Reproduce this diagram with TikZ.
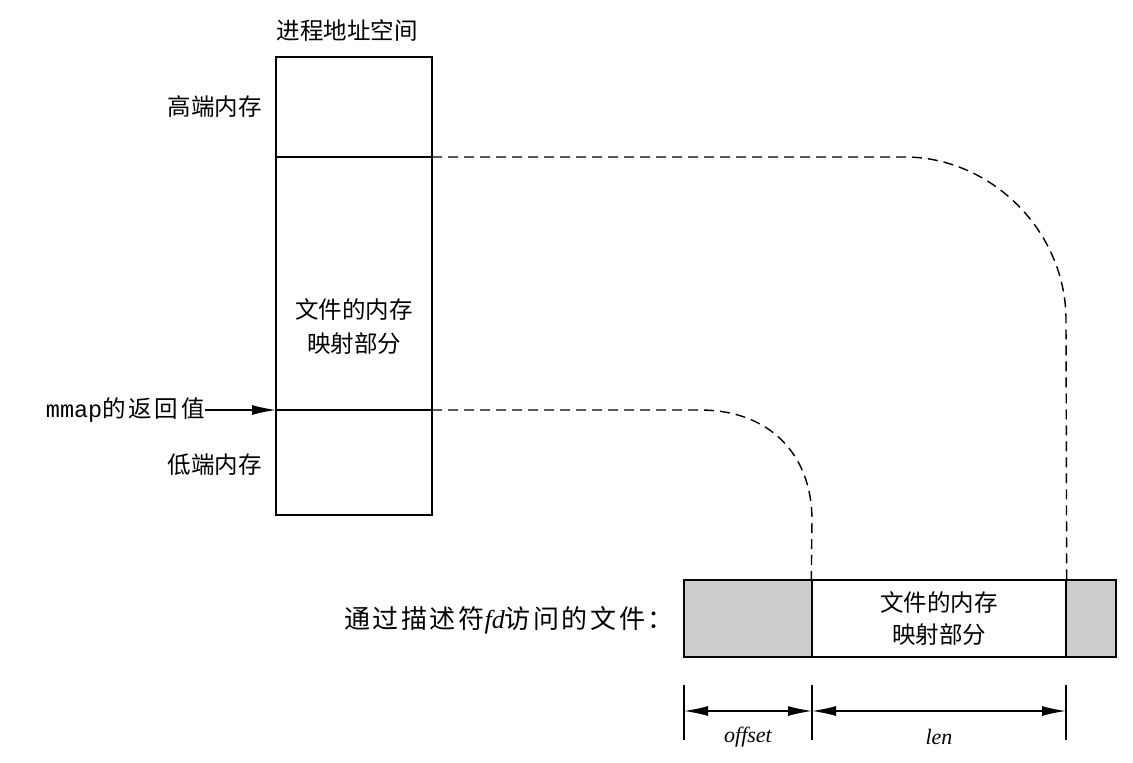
\documentclass[tikz,border=0pt]{standalone}
\usepackage{fontspec}
\setmainfont{Liberation Serif}
\setmonofont{Liberation Mono}
\newfontfamily\cjk{Noto Sans CJK SC}
\usetikzlibrary{arrows.meta}
\begin{document}
\begin{tikzpicture}[x=1pt,y=-1pt,
  lbl/.style={font=\cjk\fontsize{23.5}{28}\selectfont,inner sep=0pt},
  dsh/.style={dashed,dash pattern=on 10pt off 6pt,line width=1.4pt},
  tip/.style={-{Latex[length=24pt,width=10pt]}},
  thin/.style={line width=1.4pt}]
\useasboundingbox (0,0) rectangle (1133,763);
\node[draw,thin,minimum width=156pt,minimum height=458pt,inner sep=0pt] (box) at (354,286) {};
\coordinate (h1) at (276,157); \coordinate (h2) at (432,157);
\coordinate (l1) at (276,410); \coordinate (l2) at (432,410);
\draw[thin] (h1) -- (h2); \draw[thin] (l1) -- (l2);
\node[lbl] (t0) at (347,30) {进程地址空间};
\node[lbl,anchor=east] (hi) at (262,107) {高端内存};
\node[lbl,anchor=east] (lo) at (262,465) {低端内存};
\node[lbl,align=center] (mid) at (354,327) {文件的内存\\[6pt]映射部分};
\node[inner sep=0pt,anchor=east] (ret) at (205,410) {\fontsize{23.5}{28}\selectfont\texttt{mmap}\cjk\addfontfeature{LetterSpace=12} 的返回值};
\draw[thin,tip] (ret.east) -- (l1);
% file bar
\node[draw,thin,fill=gray!40,minimum width=128pt,minimum height=77pt,inner sep=0pt] (g1) at (748,618.5) {};
\node[draw,thin,fill=white,minimum width=254pt,minimum height=77pt,inner sep=0pt,align=center,font=\cjk\fontsize{23.5}{28}\selectfont] (w) at (939,618.5) {文件的内存\\[4pt]映射部分};
\node[draw,thin,fill=gray!40,minimum width=50pt,minimum height=77pt,inner sep=0pt] (g2) at (1091,618.5) {};
\node[inner sep=0pt,anchor=east] (fl) at (674,620) {\fontsize{26}{30}\selectfont\cjk\addfontfeature{LetterSpace=10} 通过描述符\rmfamily\itshape fd\cjk\upshape\addfontfeature{LetterSpace=10} 访问的文件：};
% dashed
\draw[dsh] (h2) -- (905,157) .. controls (990,157) and (1066,230) .. (1066,320) -- (w.north east);
\draw[dsh] (l2) -- (700,410) .. controls (770,410) and (812,455) .. (812,520) -- (w.north west);
% dimensions
\coordinate (d1) at (684,711); \coordinate (d2) at (812,711); \coordinate (d3) at (1066,711);
\foreach \x in {684,812,1066} \draw[thin] (\x,685) -- (\x,740);
\draw[thin,tip] (748,711) -- (d1); \draw[thin,tip] (748,711) -- (d2);
\draw[thin,tip] (939,711) -- (d2); \draw[thin,tip] (939,711) -- (d3);
\node[font=\fontsize{22}{26}\selectfont\itshape] (of) at (748,737) {offset};
\node[font=\fontsize{22}{26}\selectfont\itshape] (ln) at (939,737) {len};
\end{tikzpicture}
\end{document}
